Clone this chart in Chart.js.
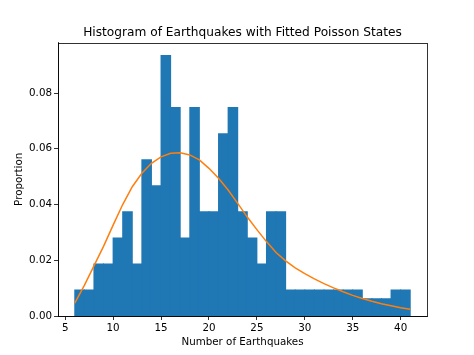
<!DOCTYPE html>
<html>
<head>
<meta charset="utf-8">
<script src="https://cdn.jsdelivr.net/npm/chart.js@4.4.1/dist/chart.umd.min.js"></script>
<style>
  html, body { margin: 0; padding: 0; background: #fff; }
  #wrap { width: 474px; height: 355px; }
</style>
</head>
<body>
<div id="wrap"><canvas id="c" width="474" height="355"></canvas></div>
<script>
// Histogram bins (left edges, width 1) and proportions
const binStarts = [6,7,8,9,10,11,12,13,14,15,16,17,18,19,20,21,22,23,24,25,26,27,28,29,30,31,32,33,34,35,36,37,38,39,40];
const proportions = [0.0093,0.0093,0.0187,0.0187,0.028,0.0374,0.0187,0.0561,0.0467,0.0935,0.0748,0.028,0.0748,0.0374,0.0374,0.0654,0.0748,0.0374,0.028,0.0187,0.0374,0.0374,0.0093,0.0093,0.0093,0.0093,0.0093,0.0093,0.0093,0.0093,0.0062,0.0062,0.0062,0.0093,0.0093];

// Fitted Poisson-mixture curve
const fitX = [6,7,8,9,10,11,12,13,14,15,16,17,18,19,20,21,22,23,24,25,26,27,28,29,30,31,32,33,34,35,36,37,38,39,40,41];
const fitY = [0.0046,0.011,0.018,0.025,0.0326,0.040,0.0464,0.0512,0.0548,0.0571,0.0584,0.0586,0.0578,0.056,0.053,0.0494,0.0452,0.0404,0.0355,0.031,0.0267,0.0228,0.0198,0.0173,0.0152,0.0133,0.0116,0.0101,0.0087,0.0074,0.0063,0.0053,0.0044,0.0037,0.003,0.0024];

const xTicks = [5,10,15,20,25,30,35,40];
const yTicks = [0.00,0.02,0.04,0.06,0.08];

const FONT = "'DejaVu Sans', sans-serif";
const barData = binStarts.map((s, i) => ({ x: s + 0.5, y: proportions[i] }));
const lineData = fitX.map((x, i) => ({ x: x, y: fitY[i] }));

const frame = {
  id: 'frame',
  afterDatasetsDraw(chart) {
    const a = chart.chartArea, ctx = chart.ctx;
    ctx.save();
    ctx.strokeStyle = '#000';
    ctx.lineWidth = 0.8;
    ctx.strokeRect(Math.round(a.left) + 0.5, Math.round(a.top) + 0.5, Math.round(a.right - a.left), Math.round(a.bottom - a.top));
    ctx.restore();
  }
};

new Chart(document.getElementById('c'), {
  type: 'bar',
  data: {
    datasets: [
      {
        type: 'line',
        data: lineData,
        borderColor: '#ff7f0e',
        borderWidth: 1.5,
        pointRadius: 0,
        tension: 0,
        fill: false,
        order: 0
      },
      {
        type: 'bar',
        data: barData,
        backgroundColor: '#1f77b4',
        borderWidth: 0,
        inflateAmount: 0.5,
        barPercentage: 1.0,
        categoryPercentage: 1.0,
        grouped: false,
        order: 1
      }
    ]
  },
  options: {
    responsive: false,
    animation: false,
    devicePixelRatio: 1,
    layout: { padding: { left: 11, right: 0, top: 0, bottom: 0 } },
    plugins: {
      legend: { display: false },
      tooltip: { enabled: false },
      title: {
        display: true,
        text: 'Histogram of Earthquakes with Fitted Poisson States',
        color: '#000',
        font: { family: FONT, size: 12.2, weight: 'normal' },
        padding: { top: 26, bottom: 2 }
      }
    },
    scales: {
      x: {
        type: 'linear',
        min: 4.25,
        max: 42.75,
        offset: false,
        grid: { display: true, offset: false, drawOnChartArea: false, drawTicks: true, tickLength: 4, color: '#000', lineWidth: 0.8 },
        border: { display: true, color: '#000', width: 0.8 },
        ticks: {
          color: '#000',
          font: { family: FONT, size: 10.3 },
          padding: 2,
          maxRotation: 0,
          autoSkip: false,
          callback: v => String(v)
        },
        afterBuildTicks: s => { s.ticks = xTicks.map(v => ({ value: v })); },
        afterFit: s => { s.height = 39; },
        title: {
          display: true,
          text: 'Number of Earthquakes',
          color: '#000',
          font: { family: FONT, size: 10.3 },
          padding: { top: 0, bottom: 6 }
        }
      },
      y: {
        type: 'linear',
        position: 'left',
        min: 0,
        max: 0.0981,
        grid: { display: true, offset: false, drawOnChartArea: false, drawTicks: true, tickLength: 4, color: '#000', lineWidth: 0.8 },
        border: { display: true, color: '#000', width: 0.8 },
        ticks: {
          color: '#000',
          font: { family: FONT, size: 10.3 },
          padding: 2,
          autoSkip: false,
          callback: v => Number(v).toFixed(2)
        },
        afterBuildTicks: s => { s.ticks = yTicks.map(v => ({ value: v })); },
        afterFit: s => { s.width = 47; },
        title: {
          display: true,
          text: 'Proportion',
          color: '#000',
          font: { family: FONT, size: 10.3 },
          padding: { top: 2, bottom: 0 }
        }
      },
      yRight: {
        type: 'linear',
        position: 'right',
        min: 0,
        max: 1,
        display: true,
        grid: { display: false, drawOnChartArea: false },
        border: { display: false },
        ticks: { display: false },
        afterFit: s => { s.width = 47; }
      }
    }
  },
  plugins: [frame]
});
</script>
</body>
</html>
